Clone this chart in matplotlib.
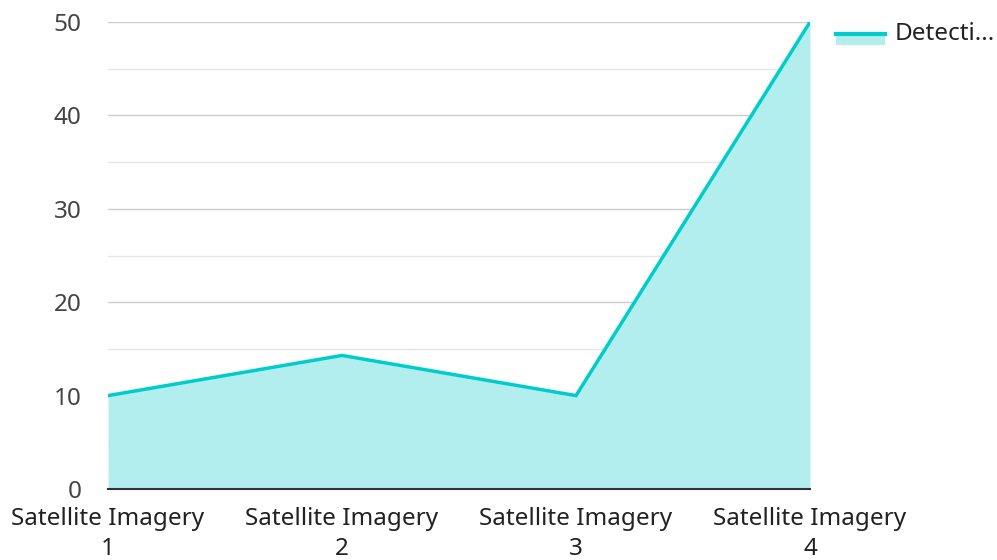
import matplotlib
matplotlib.use("Agg")
import matplotlib.pyplot as plt
from matplotlib.patches import Rectangle
from matplotlib.lines import Line2D

categories = ["Satellite Imagery\n1", "Satellite Imagery\n2", "Satellite Imagery\n3", "Satellite Imagery\n4"]
values = [10, 14.3, 10, 50]
series_name = "Detecti..."
yticks = [0, 10, 20, 30, 40, 50]

plt.rcParams['font.family'] = ['Noto Sans', 'DejaVu Sans']

W, H = 997, 560
fig = plt.figure(figsize=(W/100, H/100), dpi=100)
ax = fig.add_axes([108/W, 1-489/H, (810-108)/W, (489-22)/H])

line_color = "#00CCCC"
fill_color = "#B2EEEE"
fs = 17.5
x = list(range(len(categories)))
ax.fill_between(x, 0, values, color=fill_color, linewidth=0, zorder=2)
ax.plot(x, values, color=line_color, linewidth=2.5, zorder=3, solid_joinstyle='miter')

ax.set_xlim(0, len(categories)-1)
ax.set_ylim(0, 50)
ax.set_yticks(yticks)
ax.set_yticks([5, 15, 25, 35, 45], minor=True)
ax.grid(axis='y', which='major', color='#cccccc', linewidth=1, zorder=1)
ax.grid(axis='y', which='minor', color='#e6e6e6', linewidth=1, zorder=1)
ax.set_xticks(x)
ax.set_xticklabels(categories)
for s in ['top', 'right', 'left']:
    ax.spines[s].set_visible(False)
ax.spines['bottom'].set_color('#333333')
ax.spines['bottom'].set_linewidth(1.5)
ax.spines['bottom'].set_zorder(4)
ax.tick_params(axis='y', which='both', length=0, pad=19, labelsize=fs, labelcolor='#444444')
ax.tick_params(axis='x', length=0, pad=13, labelsize=fs, labelcolor='#222222')
for lab in ax.get_xticklabels():
    lab.set_linespacing(1.33)

# legend
fig.patches.append(Rectangle((836/W, 1-45/H), 49/W, 10/H, transform=fig.transFigure,
                             facecolor=fill_color, edgecolor='none'))
fig.lines.append(Line2D([836/W, 885/W], [1-34/H, 1-34/H], transform=fig.transFigure,
                        color=line_color, linewidth=3))
fig.text(895/W, 1-34/H, series_name, fontsize=fs, color='#222222', va='center', ha='left')

fig.savefig("out.png", dpi=100)
